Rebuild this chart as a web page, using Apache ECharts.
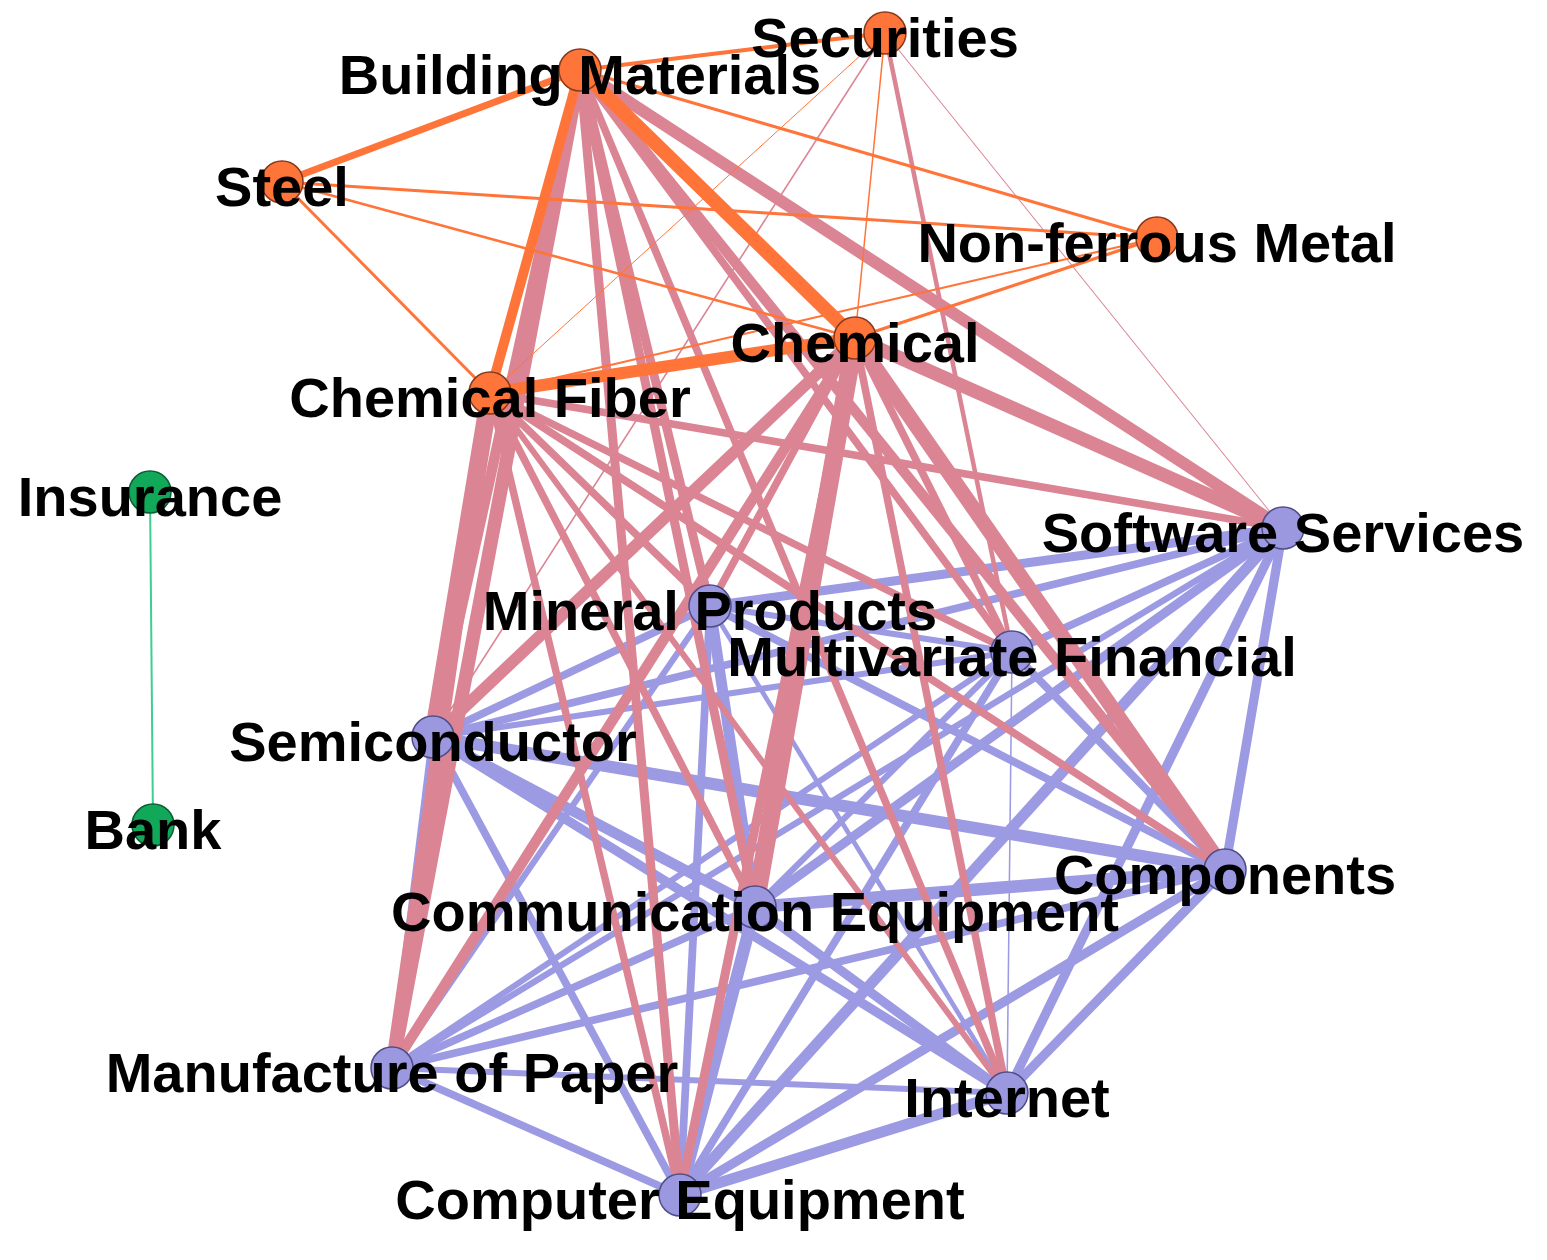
<!DOCTYPE html>
<html><head><meta charset="utf-8">
<script src="https://cdn.jsdelivr.net/npm/echarts@6/dist/echarts.min.js"></script>
<style>html,body{margin:0;padding:0;background:#fff}#c{width:1547px;height:1260px}</style>
</head><body><div id="c"></div>
<script>
const nodeNames = ['Securities','Building Materials','Steel','Non-ferrous Metal','Chemical','Chemical Fiber','Insurance','Bank','Software Services','Mineral Products','Multivariate Financial','Semiconductor','Components','Communication Equipment','Manufacture of Paper','Internet','Computer Equipment'];
const nodeX = [885,580,282,1157,855,490,150,153,1283,710,1012,433,1225,755,392,1007,680];
const nodeY = [33,70,182,238,338,393,492,825,528,606,652,737,870,907,1068,1093,1195];
const nodeGroup = ['orange','orange','orange','orange','orange','orange','green','green','blue','blue','blue','blue','blue','blue','blue','blue','blue'];

// [source, target, weight]
const blueEdges = [
 ['Software Services','Mineral Products',6],['Software Services','Multivariate Financial',5],['Software Services','Semiconductor',5],
 ['Software Services','Components',6],['Software Services','Communication Equipment',6],['Software Services','Manufacture of Paper',4],
 ['Software Services','Internet',6],['Software Services','Computer Equipment',7],
 ['Mineral Products','Multivariate Financial',4],['Mineral Products','Semiconductor',5],['Mineral Products','Components',5],
 ['Mineral Products','Communication Equipment',7],['Mineral Products','Manufacture of Paper',4],['Mineral Products','Internet',3],
 ['Mineral Products','Computer Equipment',5],
 ['Multivariate Financial','Semiconductor',4],['Multivariate Financial','Components',5],['Multivariate Financial','Communication Equipment',4],
 ['Multivariate Financial','Manufacture of Paper',4],['Multivariate Financial','Internet',1],['Multivariate Financial','Computer Equipment',5],
 ['Semiconductor','Components',8],['Semiconductor','Communication Equipment',7],['Semiconductor','Manufacture of Paper',5],
 ['Semiconductor','Internet',6],['Semiconductor','Computer Equipment',5],
 ['Components','Communication Equipment',8],['Components','Manufacture of Paper',5],['Components','Internet',6],['Components','Computer Equipment',6],
 ['Communication Equipment','Manufacture of Paper',5],['Communication Equipment','Internet',6],['Communication Equipment','Computer Equipment',8],
 ['Manufacture of Paper','Internet',4],['Manufacture of Paper','Computer Equipment',5],['Internet','Computer Equipment',7]
];
const pinkEdges = [
 ['Building Materials','Software Services',8],['Building Materials','Mineral Products',6],['Building Materials','Multivariate Financial',5],
 ['Building Materials','Semiconductor',7],['Building Materials','Components',7],['Building Materials','Communication Equipment',6],
 ['Building Materials','Manufacture of Paper',9],['Building Materials','Internet',5],['Building Materials','Computer Equipment',6],
 ['Chemical','Software Services',9],['Chemical','Mineral Products',5],['Chemical','Multivariate Financial',5],
 ['Chemical','Semiconductor',8],['Chemical','Components',10],['Chemical','Communication Equipment',12],
 ['Chemical','Manufacture of Paper',7],['Chemical','Internet',5],['Chemical','Computer Equipment',6],
 ['Chemical Fiber','Software Services',5],['Chemical Fiber','Mineral Products',5],['Chemical Fiber','Multivariate Financial',5],
 ['Chemical Fiber','Semiconductor',12],['Chemical Fiber','Components',5],['Chemical Fiber','Communication Equipment',5],
 ['Chemical Fiber','Manufacture of Paper',9],['Chemical Fiber','Internet',4],['Chemical Fiber','Computer Equipment',5],
 ['Securities','Software Services',0.7],['Securities','Multivariate Financial',3],['Securities','Semiconductor',1]
];
const orangeEdges = [
 ['Building Materials','Securities',4],['Building Materials','Steel',7],['Building Materials','Chemical',14],
 ['Building Materials','Chemical Fiber',10],['Building Materials','Non-ferrous Metal',3],['Steel','Non-ferrous Metal',3],
 ['Steel','Chemical',2.5],['Steel','Chemical Fiber',3],['Securities','Chemical',1.5],['Securities','Chemical Fiber',1],
 ['Chemical','Non-ferrous Metal',3],['Chemical Fiber','Non-ferrous Metal',2],['Chemical Fiber','Chemical',12]
];
const greenEdges = [['Insurance','Bank',2]];

const nodeFill = {orange:'#ff7439', blue:'#9b98e0', green:'#12a85a'};
const nodeBorder = {orange:'#8a3a1c', blue:'#4f4d8a', green:'#0b5e33'};
const edgeColor = {orange:'#ff7439', pink:'#db8494', blue:'#9d9ae4', green:'#3ccf8e'};
const widthScale = {orange:1, pink:1.5, blue:1.55, green:1};

const nodes = nodeNames.map((n,i)=>({
  name:n, value:[nodeX[i], nodeY[i]],
  itemStyle:{color:nodeFill[nodeGroup[i]], borderColor:nodeBorder[nodeGroup[i]], borderWidth:1.5}
}));
function mk(list, col){
  return list.map(e=>({source:e[0], target:e[1], lineStyle:{width:e[2]*widthScale[col], color:edgeColor[col], opacity:1}}));
}
const links = [].concat(mk(blueEdges,'blue'), mk(pinkEdges,'pink'), mk(orangeEdges,'orange'), mk(greenEdges,'green'));

const chart = echarts.init(document.getElementById('c'));
chart.setOption({
  animation:false,
  backgroundColor:'#fff',
  grid:{left:0, right:0, top:0, bottom:0},
  xAxis:{type:'value', min:0, max:1547, show:false},
  yAxis:{type:'value', min:0, max:1260, inverse:true, show:false},
  series:[{
    type:'graph',
    coordinateSystem:'cartesian2d',
    symbolSize:42,
    data:nodes,
    links:links,
    label:{show:true, position:'inside', offset:[0,9], formatter:'{b}',
      fontSize:56, fontWeight:'bold', fontFamily:'Liberation Sans, Arial, sans-serif', color:'#000'},
    lineStyle:{curveness:0},
    emphasis:{disabled:true}
  }]
});
</script></body></html>
